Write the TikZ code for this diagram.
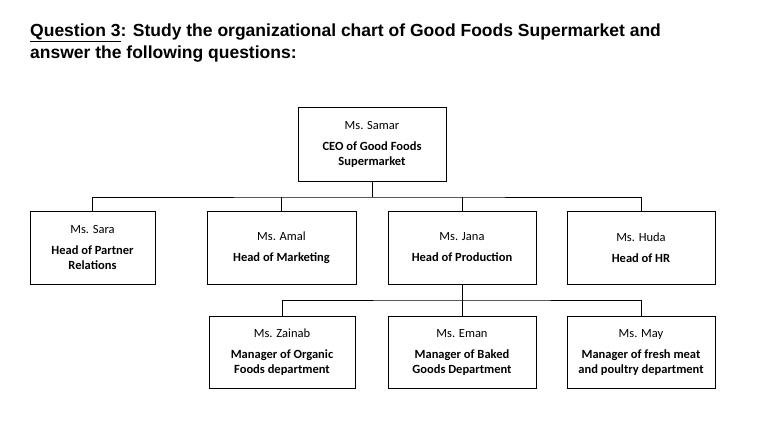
\documentclass[tikz,border=0pt]{standalone}
\usepackage{fontspec}
\setmainfont{Carlito}
\newfontfamily\arialf{Liberation Sans}
\begin{document}
\begin{tikzpicture}[x=1pt,y=-1pt,
 box/.style={draw,line width=0.8pt,align=center,font=\fontsize{12.5}{15}\selectfont,inner sep=0pt},
 conn/.style={line width=0.8pt}]
\useasboundingbox (0,0) rectangle (760,424);
\node[anchor=base west,inner sep=0pt,font=\arialf\bfseries\fontsize{17.5}{20}\selectfont] (t1) at (30,36) {\underline{Question 3}: Study the organizational chart of Good Foods Supermarket and};
\node[anchor=base west,inner sep=0pt,font=\arialf\bfseries\fontsize{17.5}{20}\selectfont] (t2) at (30,58) {answer the following questions:};
\newcommand\bx[6]{\node[box,minimum width=#4,minimum height=#5] (#1) at (#2,#3) {#6};}
\bx{ceo}{372}{144}{148}{74}{Ms. Samar\\[6pt]\textbf{CEO of Good Foods}\\\textbf{Supermarket}}
\bx{sara}{92.5}{247.5}{125}{73}{Ms. Sara\\[6pt]\textbf{Head of Partner}\\\textbf{Relations}}
\bx{amal}{281.5}{247.5}{149}{73}{Ms. Amal\\[6pt]\textbf{Head of Marketing}}
\bx{jana}{462}{247.5}{148}{73}{Ms. Jana\\[6pt]\textbf{Head of Production}}
\bx{huda}{641}{247.5}{148}{73}{Ms. Huda\\[6pt]\textbf{Head of HR}}
\bx{zain}{282}{352}{146}{72}{Ms. Zainab\\[6pt]\textbf{Manager of Organic}\\\textbf{Foods department}}
\bx{eman}{462}{352}{148}{72}{Ms. Eman\\[6pt]\textbf{Manager of Baked}\\\textbf{Goods Department}}
\bx{may}{641}{352}{148}{72}{Ms. May\\[6pt]\textbf{Manager of fresh meat}\\\textbf{and poultry department}}
\coordinate (h1) at (372,197);
\coordinate (h2) at (462,300);
\draw[conn] (ceo.south) -- (h1);
\draw[conn] (sara.north) |- (h1) -| (huda.north);
\draw[conn] (amal.north) -- (amal.north |- h1);
\draw[conn] (jana.north) -- (jana.north |- h1);
\draw[conn] (jana.south) -- (h2);
\draw[conn] (zain.north) |- (h2) -| (may.north);
\draw[conn] (eman.north) -- (eman.north |- h2);
\end{tikzpicture}
\end{document}
